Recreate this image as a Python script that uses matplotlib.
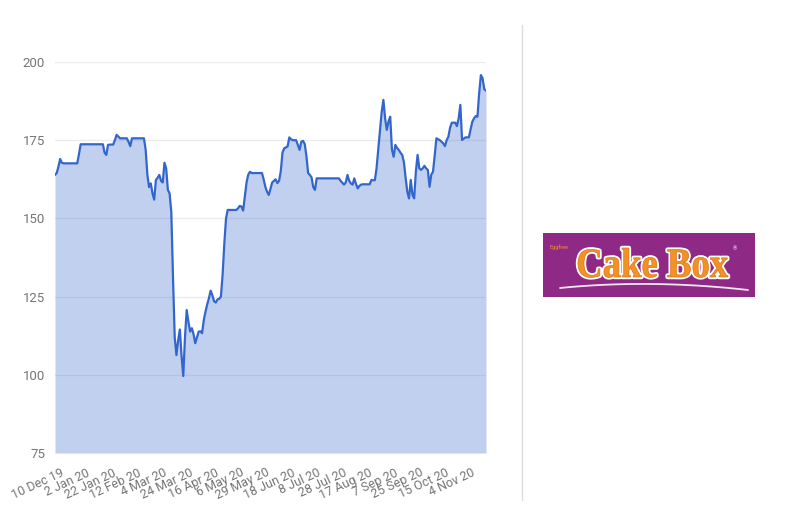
import matplotlib
matplotlib.use('Agg')
import matplotlib.pyplot as plt
from matplotlib.patches import Rectangle, PathPatch
from matplotlib.lines import Line2D
from matplotlib.textpath import TextPath
from matplotlib.font_manager import FontProperties
import matplotlib.transforms as mtrans
import numpy as np

plt.rcParams['font.family'] = ['Roboto', 'DejaVu Sans']

# ---------------- data ----------------
tick_labels = ['10 Dec 19', '2 Jan 20', '22 Jan 20', '12 Feb 20', '4 Mar 20',
               '24 Mar 20', '16 Apr 20', '6 May 20', '29 May 20', '18 Jun 20',
               '8 Jul 20', '28 Jul 20', '17 Aug 20', '7 Sep 20', '25 Sep 20',
               '15 Oct 20', '4 Nov 20']
tick_step = 15  # trading days between labels

prices = [
    163.9, 164.5, 166.5, 169.0, 167.8, 167.6, 167.6, 167.6, 167.6, 167.6,   # 0
    167.6, 167.6, 167.6, 167.6, 170.5, 173.7, 173.7, 173.7, 173.7, 173.7,   # 10
    173.7, 173.7, 173.7, 173.7, 173.7, 173.7, 173.7, 173.7, 173.7, 171.0,   # 20
    170.3, 173.5, 173.6, 173.6, 173.6, 175.0, 176.7, 176.2, 175.6, 175.6,   # 30
    175.6, 175.6, 175.6, 174.5, 173.1, 175.6, 175.6, 175.6, 175.6, 175.6,   # 40
    175.6, 175.6, 175.6, 172.0, 164.0, 160.0, 161.2, 158.0, 156.0, 162.3,   # 50
    163.0, 163.9, 162.0, 161.5, 167.8, 166.0, 159.1, 158.0, 152.0, 131.0,   # 60
    112.0, 106.3, 111.0, 114.5, 106.0, 99.6, 112.0, 120.7, 117.0, 113.8,    # 70
    114.9, 113.0, 110.1, 112.0, 113.8, 113.9, 113.3, 117.5, 120.2, 122.5,   # 80
    124.5, 126.9, 125.5, 123.5, 123.1, 124.1, 124.3, 125.0, 132.0, 142.0,   # 90
    150.0, 152.7, 152.7, 152.7, 152.7, 152.7, 152.7, 153.2, 154.0, 153.8,   # 100
    152.5, 157.0, 161.5, 164.0, 164.9, 164.5, 164.5, 164.5, 164.5, 164.5,   # 110
    164.5, 164.5, 162.5, 160.1, 158.5, 157.5, 159.5, 161.5, 162.0, 162.5,   # 120
    161.3, 162.0, 165.0, 171.0, 172.4, 172.7, 173.0, 175.9, 175.3, 175.0,   # 130
    175.0, 175.0, 173.5, 171.9, 174.5, 174.8, 173.8, 170.0, 164.5, 163.9,   # 140
    163.1, 160.0, 159.1, 162.8, 162.8, 162.8, 162.8, 162.8, 162.8, 162.8,   # 150
    162.8, 162.8, 162.8, 162.8, 162.8, 162.8, 162.8, 162.0, 161.4, 160.8,   # 160
    161.5, 163.9, 162.0, 161.2, 160.8, 162.8, 161.0, 159.6, 160.4, 160.8,   # 170
    160.9, 160.9, 160.9, 160.9, 160.9, 162.3, 162.2, 162.2, 166.0, 172.0,   # 180
    178.0, 184.0, 187.9, 182.0, 178.3, 181.0, 182.5, 172.0, 169.7, 173.5,   # 190
    172.5, 171.9, 171.0, 170.3, 168.0, 163.0, 158.5, 156.4, 162.3, 157.5,   # 200
    156.4, 165.0, 170.3, 166.0, 165.5, 166.0, 166.8, 166.0, 165.5, 160.1,   # 210
    164.0, 164.9, 170.0, 175.6, 175.3, 175.0, 174.5, 174.0, 173.1, 175.0,   # 220
    176.1, 179.0, 180.6, 180.6, 180.6, 179.5, 182.0, 186.3, 175.1, 175.5,   # 230
    175.9, 175.9, 175.9, 178.5, 180.9, 182.0, 182.7, 182.5, 190.0, 195.8,   # 240
    194.8, 191.3, 190.8,                                                    # 250
]
y_ticks = [75, 100, 125, 150, 175, 200]

# ---------------- figure ----------------
W, H = 790, 527
fig = plt.figure(figsize=(W / 100, H / 100), dpi=100)
fig.patch.set_facecolor('white')

ax = fig.add_axes([55 / W, (H - 453) / H, 431 / W, 391 / H])
x = np.arange(len(prices))
ax.fill_between(x, prices, y_ticks[0], color='#3366cc', alpha=0.3,
                linewidth=0, zorder=2)
ax.plot(x, prices, color='#3366cc', lw=1.6, zorder=3,
        solid_joinstyle='round', solid_capstyle='round')
ax.set_xlim(0, len(prices) - 1)
ax.set_ylim(y_ticks[0], y_ticks[-1])
ax.set_yticks(y_ticks)
ax.grid(axis='y', color='#ebebeb', lw=1, zorder=1)
ax.grid(axis='x', visible=False)
ax.set_axisbelow(True)
for s in ax.spines.values():
    s.set_visible(False)
ax.tick_params(axis='y', length=0, labelsize=9.5, labelcolor='#757575', pad=7)
ax.tick_params(axis='x', length=0, labelsize=9, labelcolor='#757575', pad=9.5)
ax.set_xticks(np.arange(len(tick_labels)) * tick_step)
ax.set_xticklabels(tick_labels, rotation=25, ha='right',
                   rotation_mode='anchor')
offset = mtrans.ScaledTranslation(6 / 100, 0, fig.dpi_scale_trans)
for lab in ax.get_xticklabels():
    lab.set_transform(lab.get_transform() + offset)

# separator line
fig.add_artist(Line2D([522 / W, 522 / W], [1 - 25 / H, 1 - 500 / H],
                      color='#dcdcdc', lw=1))

# ---------------- logo ----------------
lx0, ly0, lx1, ly1 = 543, 233, 755, 297
fig.add_artist(Rectangle((lx0 / W, 1 - ly1 / H), (lx1 - lx0) / W,
                         (ly1 - ly0) / H, transform=fig.transFigure,
                         facecolor='#8e2a86', edgecolor='none'))
# swoosh
t = np.linspace(0, 1, 60)
sx = (1 - t) ** 2 * 560 + 2 * (1 - t) * t * 650 + t ** 2 * 748
sy = (1 - t) ** 2 * 288 + 2 * (1 - t) * t * 279 + t ** 2 * 290
fig.add_artist(Line2D(sx / W, 1 - sy / H, color='#f3e6f1', lw=1.3,
                      solid_capstyle='round'))

# "Cake Box" word-mark, stretched to fit the box of the original logo
fp = FontProperties(family=['Liberation Serif', 'DejaVu Serif'], weight='bold')
tp = TextPath((0, 0), 'Cake Box', size=100, prop=fp)
ext = tp.get_extents()
tx0, tx1, tbase, ttop = 578, 728, 277, 248
kx = (tx1 - tx0) / (ext.x1 - ext.x0)
ky = (tbase - ttop) / ext.y1
trans = (mtrans.Affine2D().translate(-ext.x0, 0)
         .scale(kx / W, ky / H).translate(tx0 / W, 1 - tbase / H)
         + fig.transFigure)
fig.add_artist(PathPatch(tp, transform=trans, facecolor='white',
                         edgecolor='white', lw=3.2, joinstyle='round'))
fig.add_artist(PathPatch(tp, transform=trans, facecolor='#f39224',
                         edgecolor='#d9731a', lw=0.5))

fig.text(549 / W, 1 - 249 / H, 'Eggfree', ha='left', va='baseline',
         fontsize=4, color='#f39224')
fig.text(733 / W, 1 - 250 / H, '®', ha='left', va='baseline',
         fontsize=4, color='white')

fig.savefig('out.png', dpi=100, facecolor='white')
